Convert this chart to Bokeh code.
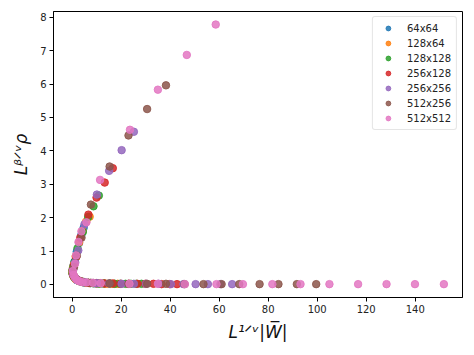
import numpy as np
from bokeh.plotting import figure
from bokeh.models import Range1d, FixedTicker, Legend, LegendItem
from bokeh.embed import file_html
from bokeh.resources import INLINE

series_names = ["64x64", "128x64", "128x128", "256x128", "256x256", "512x256", "512x512"]
colors = ["#1f77b4", "#ff7f0e", "#2ca02c", "#d62728", "#9467bd", "#8c564b", "#e377c2"]

# upper branch (ordered side) and lower branch (disordered side), per lattice size
up_x_64x64 = [0.09, 0.24, 0.47, 0.94, 1.88, 2.82, 3.76, 4.70]
up_y_64x64 = [0.40, 0.46, 0.55, 0.68, 0.98, 1.24, 1.48, 1.70]
lo_x_64x64 = [0.09, 0.24, 0.47, 0.94, 1.88, 2.82, 3.76, 4.70, 5.64, 6.58, 7.52, 8.46, 9.40, 10.3, 11.3, 12.2]
lo_y_64x64 = [0.36, 0.31, 0.26, 0.20, 0.13, 0.10, 0.08, 0.06, 0.05, 0.05, 0.04, 0.04, 0.03, 0.03, 0.03, 0.03]

up_x_128x64 = [0.14, 0.36, 0.72, 1.43, 2.86, 4.29, 5.72, 7.15]
up_y_128x64 = [0.42, 0.50, 0.60, 0.84, 1.26, 1.60, 1.88, 2.03]
lo_x_128x64 = [0.14, 0.36, 0.72, 1.43, 2.86, 4.29, 5.72, 7.15, 8.58, 10.0, 11.4, 12.9, 14.3, 15.7, 17.2, 18.6]
lo_y_128x64 = [0.34, 0.28, 0.22, 0.16, 0.10, 0.07, 0.05, 0.04, 0.04, 0.03, 0.03, 0.03, 0.02, 0.02, 0.02, 0.02]

up_x_128x128 = [0.22, 0.55, 1.09, 2.18, 4.36, 6.54, 8.72, 10.9]
up_y_128x128 = [0.41, 0.52, 0.68, 1.08, 1.57, 2.02, 2.34, 2.66]
lo_x_128x128 = [0.22, 0.55, 1.09, 2.18, 4.36, 6.54, 8.72, 10.9, 13.1, 15.3, 17.4, 19.6, 21.8, 24.0, 26.2, 28.3]
lo_y_128x128 = [0.33, 0.27, 0.20, 0.13, 0.08, 0.05, 0.04, 0.03, 0.03, 0.03, 0.02, 0.02, 0.02, 0.02, 0.02, 0.02]

up_x_256x128 = [0.33, 0.83, 1.66, 3.32, 6.64, 9.96, 13.3, 16.6]
up_y_256x128 = [0.43, 0.58, 0.82, 1.40, 2.09, 2.60, 3.05, 3.48]
lo_x_256x128 = [0.33, 0.83, 1.66, 3.32, 6.64, 9.96, 13.3, 16.6, 19.9, 23.2, 26.6, 29.9, 33.2, 36.5, 39.8, 42.8]
lo_y_256x128 = [0.31, 0.24, 0.16, 0.10, 0.05, 0.04, 0.03, 0.03, 0.02, 0.02, 0.02, 0.02, 0.02, 0.01, 0.01, 0.01]

up_x_256x256 = [0.50, 1.26, 2.52, 5.04, 10.1, 15.1, 20.2, 25.2]
up_y_256x256 = [0.45, 0.66, 1.02, 1.80, 2.69, 3.40, 4.02, 4.57]
lo_x_256x256 = [0.50, 1.26, 2.52, 5.04, 10.1, 15.1, 20.2, 25.2, 30.2, 35.3, 40.3, 45.4, 50.4, 55.4, 60.5, 65.3]
lo_y_256x256 = [0.28, 0.20, 0.12, 0.07, 0.04, 0.03, 0.02, 0.02, 0.02, 0.02, 0.01, 0.01, 0.01, 0.01, 0.01, 0.01]

up_x_512x256 = [0.77, 1.92, 3.83, 7.66, 15.3, 23.0, 30.6, 38.3]
up_y_512x256 = [0.52, 0.86, 1.40, 2.39, 3.53, 4.46, 5.25, 5.96]
lo_x_512x256 = [0.77, 1.92, 3.83, 7.66, 15.3, 23.0, 30.6, 38.3, 45.9, 53.6, 61.0, 68.2, 76.5, 84.2, 91.7, 99.6]
lo_y_512x256 = [0.24, 0.15, 0.09, 0.05, 0.03, 0.02, 0.02, 0.02, 0.01, 0.01, 0.01, 0.01, 0.01, 0.01, 0.01, 0.01]

up_x_512x512 = [0.30, 1.17, 1.60, 2.60, 3.80, 5.85, 11.4, 23.6, 35.0, 46.8, 58.6]
up_y_512x512 = [0.40, 0.62, 0.87, 1.27, 1.59, 1.86, 3.13, 4.63, 5.83, 6.87, 7.78]
lo_x_512x512 = [0.60, 1.17, 2.00, 2.92, 4.20, 5.85, 8.50, 11.7, 23.4, 35.0, 46.0, 58.9, 69.7, 81.7, 93.2, 105.0, 116.7, 128.3, 139.9, 151.7]
lo_y_512x512 = [0.28, 0.20, 0.13, 0.10, 0.07, 0.06, 0.05, 0.04, 0.02, 0.02, 0.01, 0.01, 0.01, 0.01, 0.01, 0.01, 0.01, 0.01, 0.01, 0.01]

data = {
    "64x64": (up_x_64x64 + lo_x_64x64, up_y_64x64 + lo_y_64x64),
    "128x64": (up_x_128x64 + lo_x_128x64, up_y_128x64 + lo_y_128x64),
    "128x128": (up_x_128x128 + lo_x_128x128, up_y_128x128 + lo_y_128x128),
    "256x128": (up_x_256x128 + lo_x_256x128, up_y_256x128 + lo_y_256x128),
    "256x256": (up_x_256x256 + lo_x_256x256, up_y_256x256 + lo_y_256x256),
    "512x256": (up_x_512x256 + lo_x_512x256, up_y_512x256 + lo_y_512x256),
    "512x512": (up_x_512x512 + lo_x_512x512, up_y_512x512 + lo_y_512x512),
}

x_ticks = [0, 20, 40, 60, 80, 100, 120, 140]
y_ticks = [0, 1, 2, 3, 4, 5, 6, 7, 8]
x_label = "L\u00b9\u141f\u1d5b|W\u0305|"
y_label = "L\u1d5d\u141f\u1d5b\u03c1"

W, H = 474, 355
p = figure(width=W, height=H, output_backend="svg", toolbar_location=None,
           x_range=Range1d(-7.6, 159.3), y_range=Range1d(-0.39, 8.17),
           min_border_left=53, min_border_right=12, min_border_top=11, min_border_bottom=58)
p.background_fill_color = "white"
p.border_fill_color = "white"
p.outline_line_color = "black"
p.outline_line_width = 1
p.xgrid.visible = False
p.ygrid.visible = False

for ax, ticks in ((p.xaxis[0], x_ticks), (p.yaxis[0], y_ticks)):
    ax.ticker = FixedTicker(ticks=ticks)
    ax.minor_tick_line_color = None
    ax.major_tick_in = 0
    ax.major_tick_out = 4
    ax.major_tick_line_color = "black"
    ax.axis_line_color = "black"
    ax.major_label_text_font = "DejaVu Sans"
    ax.major_label_text_font_size = "10px"
    ax.major_label_text_color = "#222222"
    ax.axis_label_text_font = "DejaVu Sans"
    ax.axis_label_text_font_size = "17px"
    ax.axis_label_text_font_style = "italic"
    ax.axis_label_text_color = "#111111"
p.xaxis.major_label_standoff = 3
p.yaxis.major_label_standoff = 3
p.xaxis.axis_label = x_label
p.yaxis.axis_label = y_label
p.xaxis.axis_label_standoff = 6
p.yaxis.axis_label_standoff = 6

items = []
for name, c in zip(series_names, colors):
    xs, ys = data[name]
    r = p.scatter(xs, ys, size=7.5, fill_color=c, line_color=c, fill_alpha=0.85, line_alpha=0.85)
    items.append(LegendItem(label=name, renderers=[r]))

legend = Legend(items=items, location="top_right")
legend.label_text_font = "DejaVu Sans"
legend.label_text_font_size = "10px"
legend.label_text_color = "#222222"
legend.glyph_height = 12
legend.glyph_width = 20
legend.label_height = 12
legend.spacing = 3
legend.padding = 5
legend.margin = 5
legend.label_standoff = 9
legend.border_line_color = "#cccccc"
legend.border_line_width = 1
legend.border_radius = 3
legend.background_fill_alpha = 0.8
p.add_layout(legend)

open("out.html", "w").write(file_html(p, INLINE))
